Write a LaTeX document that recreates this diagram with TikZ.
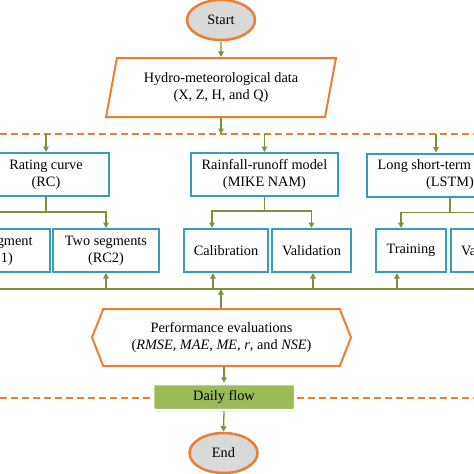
\documentclass[tikz,border=0pt]{standalone}
\usepackage{fontspec}
\setmainfont{Liberation Serif}
\usetikzlibrary{shapes.geometric,shapes.symbols,arrows.meta,shadows}
\definecolor{flowor}{HTML}{ED7D31}
\definecolor{flowgr}{HTML}{77933C}
\definecolor{flowbl}{HTML}{3A9DB8}
\definecolor{flowgy}{HTML}{D9D9D9}
\definecolor{flowlime}{HTML}{9BBB59}
\tikzset{
  every node/.style={font=\fontsize{14.3}{17}\selectfont},
  term/.style={ellipse,draw=flowor,line width=2.5pt,fill=flowgy,minimum width=68pt,minimum height=40pt,inner sep=0pt},
  datain/.style={trapezium,trapezium left angle=77,trapezium right angle=103,trapezium stretches=true,draw=flowor,line width=2pt,minimum width=230pt,minimum height=59pt,align=center},
  proc/.style={rectangle,draw=flowbl,line width=2pt,minimum height=43pt,align=center,inner sep=0pt},
  evalbox/.style={signal,signal to=west and east,signal pointer angle=137,draw=flowor,line width=2pt,minimum width=259pt,minimum height=57pt,align=center},
  outbox/.style={rectangle,rounded corners=2pt,fill=flowlime,draw=white,line width=2.5pt,minimum width=142pt,minimum height=26pt,drop shadow={opacity=0.3,shadow xshift=1pt,shadow yshift=-1.5pt}},
  arr/.style={flowgr,line width=1.3pt,-{Triangle[length=5.5pt,width=5.5pt]}},
  link/.style={flowgr,line width=1.3pt},
  sep/.style={flowor,line width=1.5pt,dash pattern=on 7pt off 4pt}
}
\begin{document}
\begin{tikzpicture}[x=1pt,y=-1pt]
	\useasboundingbox (0,0) rectangle (474,474);
	\clip (0,0) rectangle (474,474);
	% input
	\node[term] (start) at (221,20) {Start};
	\node[datain] (data) at (221,87.5) {Hydro-meteorological data\\(X, Z, H, and Q)};
	\draw[arr] (start.south) -- (data.north);
	\coordinate (sepL) at (0,134);
	\coordinate (sepR) at (474,134);
	\draw[sep] (sepL) -- (sepR);
	\draw[arr] (data.south) -- (data.south |- sepL);
	% models
	\node[proc,minimum width=126pt] (rc) at (46,174.5) {Rating curve\\(RC)};
	\node[proc,minimum width=147pt] (mike) at (264.5,174.5) {Rainfall-runoff model\\(MIKE NAM)};
	\node[proc,minimum width=166pt] (lstm) at (450,175) {Long short-term memory\\(LSTM)};
	\draw[arr] (rc.north |- sepL) -- (rc.north);
	\draw[arr] (mike.north |- sepL) -- (mike.north);
	\draw[arr] ([xshift=-14pt]lstm.north |- sepL) -- ([xshift=-14pt]lstm.north);
	% sub-steps
	\node[proc,minimum width=110pt] (rc1) at (-5,250.5) {One segment\\(RC1)};
	\node[proc,minimum width=106pt] (rc2) at (106,250.5) {Two segments\\(RC2)};
	\node[proc,minimum width=84pt] (cal) at (226,250.5) {Calibration};
	\node[proc,minimum width=79pt] (val) at (311.5,250.5) {Validation};
	\node[proc,minimum width=70pt] (train) at (411,250.5) {Training};
	\node[proc,minimum width=79pt] (valb) at (490.5,250.5) {Validation};
	\draw[link] (rc.south) -- ++(0,15) coordinate (rcb);
	\draw[arr] (rcb) -| (rc1.north);
	\draw[arr] (rcb) -| (rc2.north);
	\draw[link] (mike.south) -- ++(0,14) coordinate (mkb);
	\draw[arr] (mkb) -| ([xshift=-14pt]cal.north);
	\draw[arr] (mkb) -| (val.north);
	\draw[link] (lstm.south) -- ++(0,15) coordinate (lsb);
	\draw[arr] (lsb) -| ([xshift=-10pt]train.north);
	\draw[arr] (lsb) -| (valb.north);
	% evaluation
	\coordinate (busL) at (0,289);
	\coordinate (busR) at (474,289);
	\draw[link] (busL) -- (busR);
	\foreach \b/\dx in {rc1/0,rc2/0,cal/-13,val/1.5,train/-14,valb/0}
		\draw[arr] ([xshift=\dx pt]\b.south |- busL) -- ([xshift=\dx pt]\b.south);
	\node[evalbox] (perf) at (221.5,337.5) {Performance evaluations\\(\textit{RMSE}, \textit{MAE}, \textit{ME}, \textit{r}, and \textit{NSE})};
	\draw[arr] ([xshift=-0.5pt]perf.north) -- ([xshift=-0.5pt]perf.north |- busL);
	% output
	\coordinate (sepBL) at (0,398);
	\coordinate (sepBR) at (474,398);
	\draw[sep] (sepBL) -- (sepBR);
	\node[outbox] (daily) at (224,397) {Daily flow};
	\draw[arr] (daily.north |- perf.south) -- (daily.north);
	\node[term] (end) at (223.5,453) {End};
	\draw[arr] (daily.south) -- (end.north);
\end{tikzpicture}
\end{document}
